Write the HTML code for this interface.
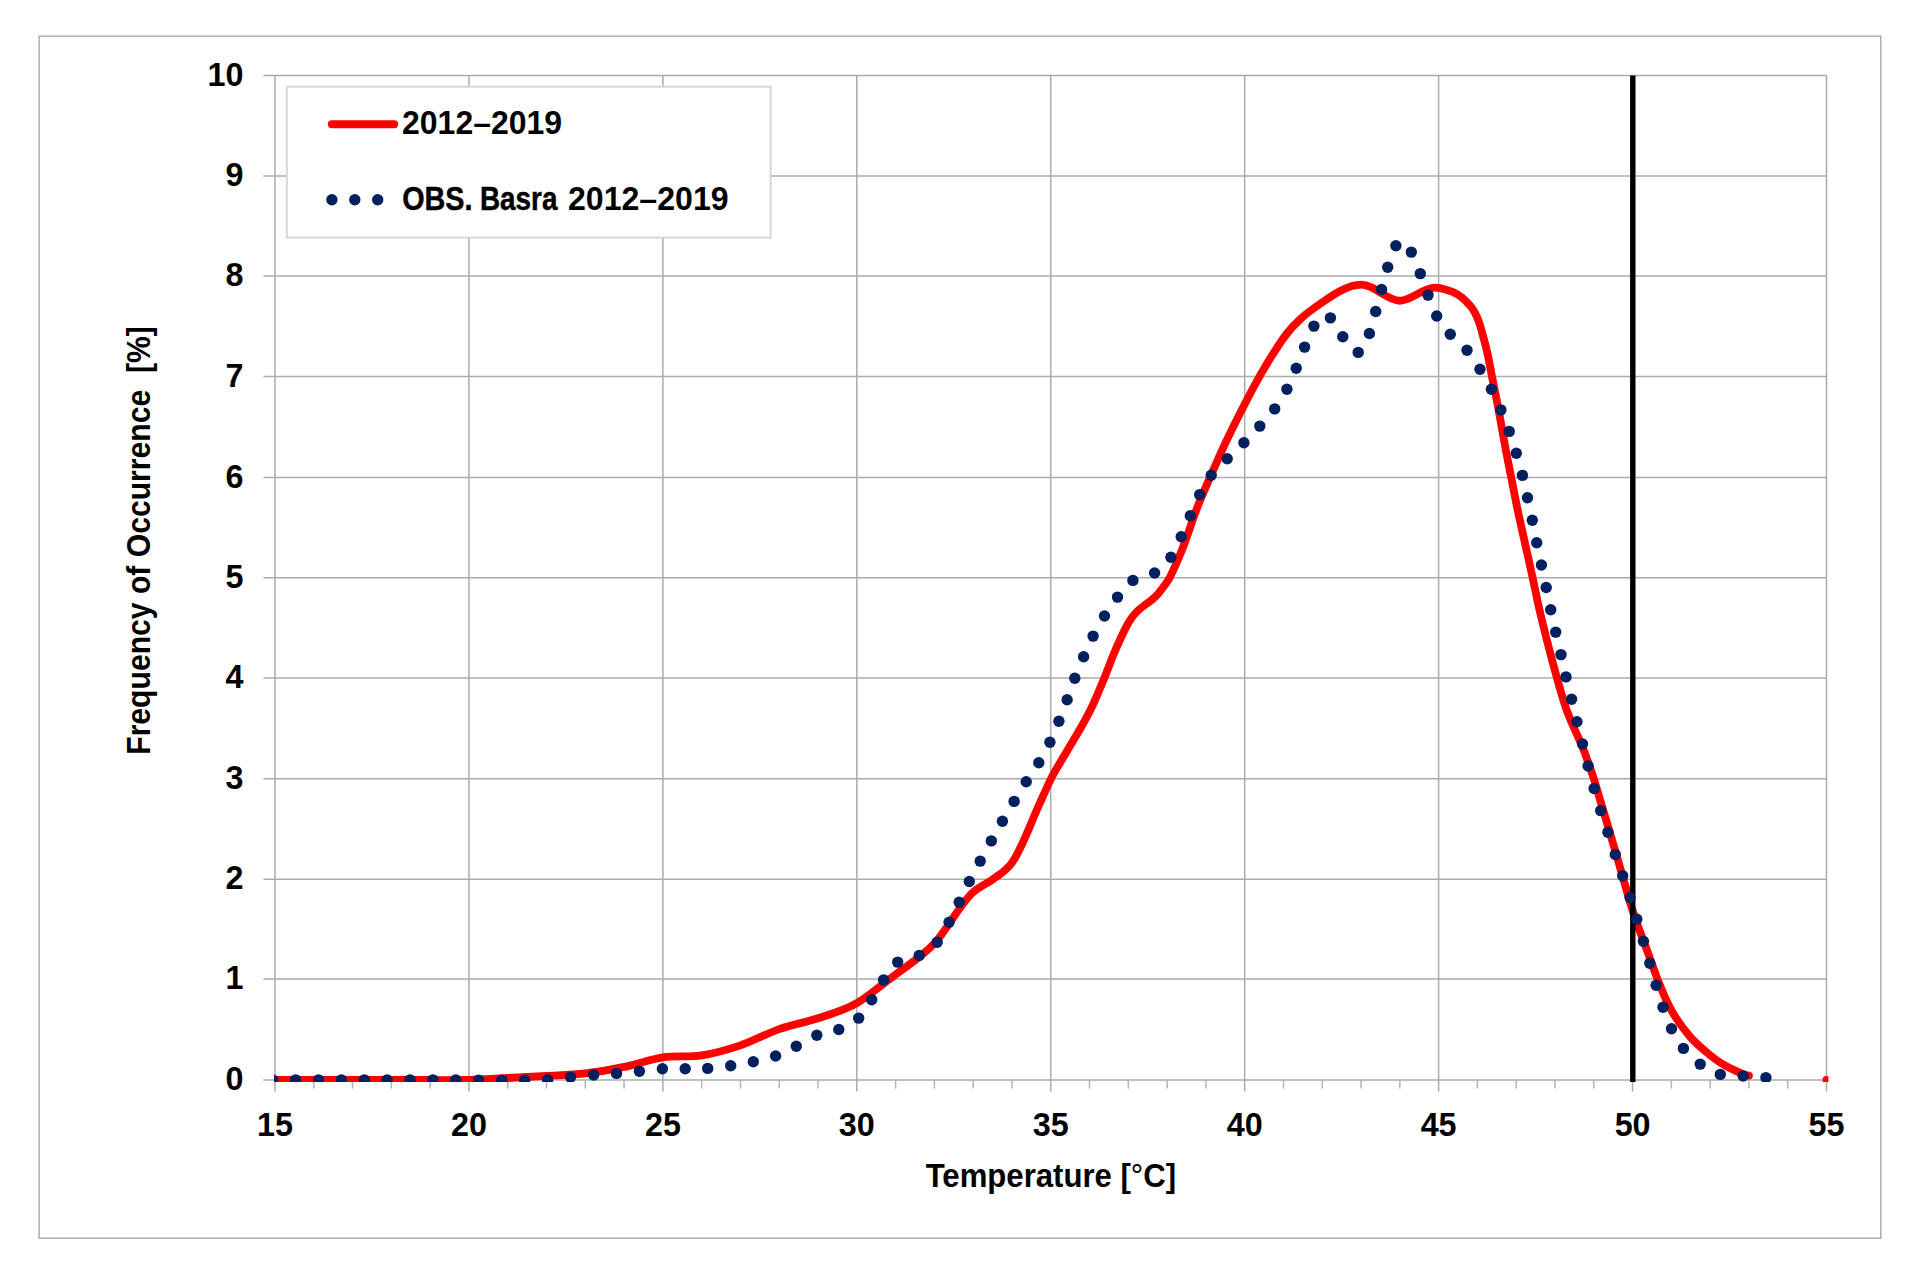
<!DOCTYPE html>
<html lang="en"><head><meta charset="utf-8"><title>Frequency of Occurrence vs Temperature</title>
<style>html,body{margin:0;padding:0;background:#fff;}svg{display:block;}text{font-family:"Liberation Sans",sans-serif;font-weight:bold;fill:#000;}</style></head><body>
<svg width="1923" height="1282" viewBox="0 0 1923 1282">
<rect x="0" y="0" width="1923" height="1282" fill="#fff"/>
<rect x="39.1" y="36.2" width="1841.7" height="1202.0" fill="none" stroke="#adadad" stroke-width="1.5"/>
<g stroke="#ababab" stroke-width="1.5" fill="none">
<line x1="263.4" x2="1826.5" y1="1080.00" y2="1080.00"/>
<line x1="263.4" x2="1826.5" y1="979.00" y2="979.00"/>
<line x1="263.4" x2="1826.5" y1="879.15" y2="879.15"/>
<line x1="263.4" x2="1826.5" y1="778.75" y2="778.75"/>
<line x1="263.4" x2="1826.5" y1="678.00" y2="678.00"/>
<line x1="263.4" x2="1826.5" y1="577.80" y2="577.80"/>
<line x1="263.4" x2="1826.5" y1="477.50" y2="477.50"/>
<line x1="263.4" x2="1826.5" y1="376.60" y2="376.60"/>
<line x1="263.4" x2="1826.5" y1="276.00" y2="276.00"/>
<line x1="263.4" x2="1826.5" y1="176.00" y2="176.00"/>
<line x1="263.4" x2="1826.5" y1="75.55" y2="75.55"/>
<line x1="275.00" x2="275.00" y1="75.55" y2="1091.6"/>
<line x1="468.94" x2="468.94" y1="75.55" y2="1091.6"/>
<line x1="662.88" x2="662.88" y1="75.55" y2="1091.6"/>
<line x1="856.81" x2="856.81" y1="75.55" y2="1091.6"/>
<line x1="1050.75" x2="1050.75" y1="75.55" y2="1091.6"/>
<line x1="1244.69" x2="1244.69" y1="75.55" y2="1091.6"/>
<line x1="1438.62" x2="1438.62" y1="75.55" y2="1091.6"/>
<line x1="1632.56" x2="1632.56" y1="75.55" y2="1091.6"/>
<line x1="1826.50" x2="1826.50" y1="75.55" y2="1091.6"/>
<line x1="313.79" x2="313.79" y1="1080" y2="1088.6" stroke="#b4b4b4"/>
<line x1="352.57" x2="352.57" y1="1080" y2="1088.6" stroke="#b4b4b4"/>
<line x1="391.36" x2="391.36" y1="1080" y2="1088.6" stroke="#b4b4b4"/>
<line x1="430.15" x2="430.15" y1="1080" y2="1088.6" stroke="#b4b4b4"/>
<line x1="507.73" x2="507.73" y1="1080" y2="1088.6" stroke="#b4b4b4"/>
<line x1="546.51" x2="546.51" y1="1080" y2="1088.6" stroke="#b4b4b4"/>
<line x1="585.30" x2="585.30" y1="1080" y2="1088.6" stroke="#b4b4b4"/>
<line x1="624.09" x2="624.09" y1="1080" y2="1088.6" stroke="#b4b4b4"/>
<line x1="701.66" x2="701.66" y1="1080" y2="1088.6" stroke="#b4b4b4"/>
<line x1="740.45" x2="740.45" y1="1080" y2="1088.6" stroke="#b4b4b4"/>
<line x1="779.24" x2="779.24" y1="1080" y2="1088.6" stroke="#b4b4b4"/>
<line x1="818.02" x2="818.02" y1="1080" y2="1088.6" stroke="#b4b4b4"/>
<line x1="895.60" x2="895.60" y1="1080" y2="1088.6" stroke="#b4b4b4"/>
<line x1="934.39" x2="934.39" y1="1080" y2="1088.6" stroke="#b4b4b4"/>
<line x1="973.18" x2="973.18" y1="1080" y2="1088.6" stroke="#b4b4b4"/>
<line x1="1011.96" x2="1011.96" y1="1080" y2="1088.6" stroke="#b4b4b4"/>
<line x1="1089.54" x2="1089.54" y1="1080" y2="1088.6" stroke="#b4b4b4"/>
<line x1="1128.33" x2="1128.33" y1="1080" y2="1088.6" stroke="#b4b4b4"/>
<line x1="1167.11" x2="1167.11" y1="1080" y2="1088.6" stroke="#b4b4b4"/>
<line x1="1205.90" x2="1205.90" y1="1080" y2="1088.6" stroke="#b4b4b4"/>
<line x1="1283.47" x2="1283.47" y1="1080" y2="1088.6" stroke="#b4b4b4"/>
<line x1="1322.26" x2="1322.26" y1="1080" y2="1088.6" stroke="#b4b4b4"/>
<line x1="1361.05" x2="1361.05" y1="1080" y2="1088.6" stroke="#b4b4b4"/>
<line x1="1399.84" x2="1399.84" y1="1080" y2="1088.6" stroke="#b4b4b4"/>
<line x1="1477.41" x2="1477.41" y1="1080" y2="1088.6" stroke="#b4b4b4"/>
<line x1="1516.20" x2="1516.20" y1="1080" y2="1088.6" stroke="#b4b4b4"/>
<line x1="1554.99" x2="1554.99" y1="1080" y2="1088.6" stroke="#b4b4b4"/>
<line x1="1593.78" x2="1593.78" y1="1080" y2="1088.6" stroke="#b4b4b4"/>
<line x1="1671.35" x2="1671.35" y1="1080" y2="1088.6" stroke="#b4b4b4"/>
<line x1="1710.14" x2="1710.14" y1="1080" y2="1088.6" stroke="#b4b4b4"/>
<line x1="1748.92" x2="1748.92" y1="1080" y2="1088.6" stroke="#b4b4b4"/>
<line x1="1787.71" x2="1787.71" y1="1080" y2="1088.6" stroke="#b4b4b4"/>
</g>
<rect x="286.8" y="86.7" width="483.8" height="150.9" fill="#fff" stroke="#d6d4d5" stroke-width="1.9"/>
<defs><clipPath id="pc"><rect x="274.1" y="70" width="1554.3" height="1012.1"/></clipPath></defs>
<g clip-path="url(#pc)">
<path d="M275.00 1080.00 C287.93 1080.00 300.86 1080.00 313.79 1080.00 C326.72 1080.00 339.65 1080.00 352.57 1080.00 C365.50 1080.00 378.43 1080.00 391.36 1080.00 C404.29 1080.00 417.22 1080.00 430.15 1080.00 C443.08 1080.00 456.01 1080.33 468.94 1080.00 C481.87 1079.67 494.80 1078.66 507.73 1077.99 C520.65 1077.32 533.58 1076.74 546.51 1075.98 C559.44 1075.23 572.37 1074.98 585.30 1073.47 C598.23 1071.96 611.16 1069.62 624.09 1066.94 C637.02 1064.26 649.95 1059.33 662.88 1057.40 C675.80 1055.47 688.73 1057.40 701.66 1055.39 C714.59 1053.38 727.52 1049.73 740.45 1045.35 C753.38 1040.96 766.31 1033.59 779.24 1029.07 C792.17 1024.55 805.10 1022.55 818.02 1018.23 C830.95 1013.91 843.88 1010.63 856.81 1003.16 C867.52 996.97 878.22 987.58 888.93 979.56 C891.15 977.89 893.38 976.22 895.60 974.53 C908.53 964.70 921.46 957.12 934.39 943.39 C947.32 929.67 960.25 903.55 973.18 892.17 C979.83 886.31 986.49 884.21 993.15 879.11 C999.42 874.31 1005.69 871.41 1011.96 862.74 C1021.14 850.04 1030.32 823.98 1039.50 803.98 C1043.34 795.61 1047.18 786.30 1051.02 778.66 C1055.77 769.22 1060.51 762.31 1065.26 754.00 C1074.73 737.38 1084.21 723.88 1093.69 703.03 C1097.20 695.29 1100.72 686.83 1104.24 678.22 C1107.55 670.12 1110.86 660.84 1114.17 653.01 C1118.89 641.84 1123.61 631.32 1128.33 622.98 C1138.71 604.61 1149.09 605.61 1159.47 592.04 C1162.85 587.63 1166.22 583.84 1169.59 577.78 C1173.31 571.10 1177.02 561.96 1180.73 553.00 C1186.95 537.98 1193.16 517.38 1199.38 502.04 C1202.94 493.27 1206.49 485.48 1210.05 477.33 C1213.77 468.80 1217.50 460.19 1221.22 452.02 C1229.42 434.04 1237.62 417.78 1245.81 402.00 C1250.30 393.36 1254.79 384.82 1259.27 376.88 C1264.28 368.04 1269.28 359.81 1274.28 351.97 C1277.35 347.18 1280.41 342.39 1283.47 338.11 C1296.40 320.07 1309.33 311.26 1322.26 302.35 C1335.19 293.45 1348.12 284.94 1361.05 284.68 C1373.98 284.41 1386.91 300.64 1399.84 300.75 C1411.73 300.84 1423.63 286.97 1435.52 287.69 C1438.75 287.88 1441.99 288.54 1445.22 289.40 C1447.80 290.08 1450.39 290.80 1452.98 292.01 C1455.95 293.40 1458.92 295.10 1461.90 297.53 C1463.84 299.12 1465.78 300.95 1467.72 303.06 C1469.54 305.04 1471.36 306.70 1473.18 309.69 C1474.39 311.66 1475.59 313.85 1476.79 316.62 C1477.79 318.91 1478.78 321.33 1479.78 324.45 C1480.53 326.81 1481.28 329.67 1482.03 332.39 C1483.73 338.56 1485.44 344.34 1487.15 351.97 C1488.78 359.27 1490.41 368.68 1492.04 376.88 C1493.72 385.36 1495.40 393.34 1497.08 402.00 C1500.23 418.24 1503.39 437.23 1506.54 453.73 C1508.08 461.77 1509.62 469.51 1511.16 477.33 C1512.98 486.60 1514.80 496.06 1516.63 504.95 C1520.14 522.11 1523.66 536.99 1527.18 552.97 C1529.00 561.24 1530.82 569.28 1532.65 577.78 C1534.40 585.97 1536.16 594.96 1537.92 602.99 C1542.02 621.70 1546.12 637.32 1550.22 653.01 C1552.49 661.72 1554.77 670.10 1557.04 678.22 C1559.45 686.80 1561.85 695.39 1564.26 703.03 C1571.11 724.80 1577.96 734.28 1584.82 753.00 C1587.80 761.16 1590.79 769.27 1593.78 778.66 C1596.18 786.23 1598.58 794.88 1600.99 802.97 C1606.06 820.03 1611.13 836.56 1616.19 854.00 C1618.60 862.27 1621.00 870.75 1623.41 879.11 C1625.80 887.42 1628.19 896.17 1630.58 904.02 C1636.64 923.89 1642.69 938.28 1648.74 955.00 C1651.72 963.25 1654.71 971.92 1657.70 979.56 C1661.33 988.85 1664.96 997.57 1668.60 1005.00 C1675.73 1019.59 1682.87 1028.26 1690.01 1036.61 C1695.20 1042.69 1700.40 1046.92 1705.60 1051.37 C1710.81 1055.83 1716.02 1059.99 1721.23 1063.33 C1726.43 1066.65 1731.63 1069.15 1736.82 1071.36 C1740.86 1073.08 1744.89 1074.96 1748.92 1075.68" fill="none" stroke="#ff0000" stroke-width="7.8" stroke-linecap="round" stroke-linejoin="round"/>
<circle cx="1826.5" cy="1080.0" r="4" fill="#ff0000"/>
<line x1="1632.80" x2="1632.80" y1="75.55" y2="1083.00" stroke="#000" stroke-width="5.4"/>
<g fill="#002060">
<circle cx="272.7" cy="1080.0" r="5.7"/>
<circle cx="295.6" cy="1079.9" r="5.7"/>
<circle cx="318.5" cy="1079.9" r="5.7"/>
<circle cx="341.4" cy="1079.9" r="5.7"/>
<circle cx="364.3" cy="1079.9" r="5.7"/>
<circle cx="387.1" cy="1079.9" r="5.7"/>
<circle cx="410.0" cy="1079.9" r="5.7"/>
<circle cx="432.9" cy="1079.9" r="5.7"/>
<circle cx="455.8" cy="1079.9" r="5.7"/>
<circle cx="478.7" cy="1080.1" r="5.7"/>
<circle cx="501.8" cy="1080.2" r="5.7"/>
<circle cx="524.7" cy="1080.2" r="5.7"/>
<circle cx="547.6" cy="1079.7" r="5.7"/>
<circle cx="570.5" cy="1077.1" r="5.7"/>
<circle cx="593.6" cy="1075.0" r="5.7"/>
<circle cx="616.5" cy="1073.4" r="5.7"/>
<circle cx="639.4" cy="1071.3" r="5.7"/>
<circle cx="662.4" cy="1068.7" r="5.7"/>
<circle cx="685.2" cy="1068.7" r="5.7"/>
<circle cx="707.7" cy="1068.4" r="5.7"/>
<circle cx="730.7" cy="1065.7" r="5.7"/>
<circle cx="753.3" cy="1061.8" r="5.7"/>
<circle cx="775.6" cy="1056.0" r="5.7"/>
<circle cx="796.3" cy="1046.2" r="5.7"/>
<circle cx="816.8" cy="1035.3" r="5.7"/>
<circle cx="838.8" cy="1029.5" r="5.7"/>
<circle cx="858.7" cy="1018.1" r="5.7"/>
<circle cx="871.7" cy="999.8" r="5.7"/>
<circle cx="883.6" cy="979.9" r="5.7"/>
<circle cx="897.7" cy="962.1" r="5.7"/>
<circle cx="919.2" cy="955.5" r="5.7"/>
<circle cx="937.2" cy="942.2" r="5.7"/>
<circle cx="949.1" cy="922.3" r="5.7"/>
<circle cx="959.2" cy="902.2" r="5.7"/>
<circle cx="969.3" cy="881.5" r="5.7"/>
<circle cx="980.2" cy="861.1" r="5.7"/>
<circle cx="991.3" cy="840.9" r="5.7"/>
<circle cx="1002.4" cy="821.3" r="5.7"/>
<circle cx="1014.1" cy="801.4" r="5.7"/>
<circle cx="1026.2" cy="781.8" r="5.7"/>
<circle cx="1038.8" cy="762.7" r="5.7"/>
<circle cx="1049.9" cy="742.2" r="5.7"/>
<circle cx="1058.9" cy="721.3" r="5.7"/>
<circle cx="1067.1" cy="699.8" r="5.7"/>
<circle cx="1074.8" cy="678.3" r="5.7"/>
<circle cx="1083.6" cy="656.8" r="5.7"/>
<circle cx="1093.1" cy="636.1" r="5.7"/>
<circle cx="1104.5" cy="616.0" r="5.7"/>
<circle cx="1117.5" cy="597.1" r="5.7"/>
<circle cx="1132.9" cy="580.4" r="5.7"/>
<circle cx="1154.6" cy="573.0" r="5.7"/>
<circle cx="1170.9" cy="557.2" r="5.7"/>
<circle cx="1181.2" cy="536.8" r="5.7"/>
<circle cx="1190.3" cy="515.7" r="5.7"/>
<circle cx="1199.7" cy="494.6" r="5.7"/>
<circle cx="1211.2" cy="475.3" r="5.7"/>
<circle cx="1227.2" cy="458.7" r="5.7"/>
<circle cx="1243.9" cy="442.8" r="5.7"/>
<circle cx="1259.8" cy="426.1" r="5.7"/>
<circle cx="1274.7" cy="408.9" r="5.7"/>
<circle cx="1286.9" cy="389.2" r="5.7"/>
<circle cx="1296.2" cy="368.3" r="5.7"/>
<circle cx="1304.6" cy="347.1" r="5.7"/>
<circle cx="1313.9" cy="326.1" r="5.7"/>
<circle cx="1330.4" cy="317.9" r="5.7"/>
<circle cx="1342.8" cy="336.7" r="5.7"/>
<circle cx="1358.2" cy="352.4" r="5.7"/>
<circle cx="1369.4" cy="333.5" r="5.7"/>
<circle cx="1375.7" cy="311.5" r="5.7"/>
<circle cx="1381.6" cy="289.5" r="5.7"/>
<circle cx="1387.7" cy="267.2" r="5.7"/>
<circle cx="1395.9" cy="245.7" r="5.7"/>
<circle cx="1411.3" cy="252.1" r="5.7"/>
<circle cx="1420.3" cy="273.6" r="5.7"/>
<circle cx="1428.0" cy="295.1" r="5.7"/>
<circle cx="1436.7" cy="316.0" r="5.7"/>
<circle cx="1450.3" cy="334.3" r="5.7"/>
<circle cx="1467.0" cy="350.2" r="5.7"/>
<circle cx="1480.0" cy="369.3" r="5.7"/>
<circle cx="1491.4" cy="389.2" r="5.7"/>
<circle cx="1500.9" cy="409.9" r="5.7"/>
<circle cx="1509.2" cy="431.4" r="5.7"/>
<circle cx="1516.3" cy="453.2" r="5.7"/>
<circle cx="1522.4" cy="475.4" r="5.7"/>
<circle cx="1527.5" cy="497.7" r="5.7"/>
<circle cx="1532.3" cy="520.2" r="5.7"/>
<circle cx="1536.7" cy="542.8" r="5.7"/>
<circle cx="1541.4" cy="565.0" r="5.7"/>
<circle cx="1546.2" cy="587.5" r="5.7"/>
<circle cx="1550.7" cy="609.8" r="5.7"/>
<circle cx="1555.7" cy="632.1" r="5.7"/>
<circle cx="1561.0" cy="654.6" r="5.7"/>
<circle cx="1566.0" cy="676.9" r="5.7"/>
<circle cx="1571.6" cy="699.2" r="5.7"/>
<circle cx="1576.9" cy="721.8" r="5.7"/>
<circle cx="1582.5" cy="744.0" r="5.7"/>
<circle cx="1588.1" cy="766.0" r="5.7"/>
<circle cx="1594.1" cy="788.5" r="5.7"/>
<circle cx="1600.7" cy="810.6" r="5.7"/>
<circle cx="1607.9" cy="832.3" r="5.7"/>
<circle cx="1615.3" cy="854.5" r="5.7"/>
<circle cx="1622.7" cy="875.8" r="5.7"/>
<circle cx="1630.1" cy="897.5" r="5.7"/>
<circle cx="1636.8" cy="919.3" r="5.7"/>
<circle cx="1643.4" cy="941.3" r="5.7"/>
<circle cx="1649.8" cy="963.3" r="5.7"/>
<circle cx="1656.1" cy="985.3" r="5.7"/>
<circle cx="1663.0" cy="1007.3" r="5.7"/>
<circle cx="1671.5" cy="1028.8" r="5.7"/>
<circle cx="1683.4" cy="1048.4" r="5.7"/>
<circle cx="1700.2" cy="1064.1" r="5.7"/>
<circle cx="1720.3" cy="1074.4" r="5.7"/>
<circle cx="1743.1" cy="1076.0" r="5.7"/>
<circle cx="1765.9" cy="1077.6" r="5.7"/>
</g>
</g>
<line x1="331.8" x2="394.2" y1="124.3" y2="124.3" stroke="#ff0000" stroke-width="7.9" stroke-linecap="round"/>
<g fill="#002060"><circle cx="331.9" cy="199.8" r="5.7"/><circle cx="354.8" cy="199.8" r="5.7"/><circle cx="377.7" cy="199.8" r="5.7"/></g>
<text x="402.1" y="134.3" font-size="32.3" textLength="159.9" lengthAdjust="spacingAndGlyphs">2012–2019</text>
<text y="209.7" font-size="32.3"><tspan x="402.2" textLength="70.3" lengthAdjust="spacingAndGlyphs" stroke="#000" stroke-width="0.45">OBS.</tspan> <tspan x="479.9" textLength="77.5" lengthAdjust="spacingAndGlyphs" stroke="#000" stroke-width="0.45">Basra</tspan> <tspan x="568.0" textLength="160.6" lengthAdjust="spacingAndGlyphs">2012–2019</tspan></text>
<text x="243.5" y="1090.1" font-size="32.3" text-anchor="end">0</text>
<text x="243.5" y="989.1" font-size="32.3" text-anchor="end">1</text>
<text x="243.5" y="889.2" font-size="32.3" text-anchor="end">2</text>
<text x="243.5" y="788.9" font-size="32.3" text-anchor="end">3</text>
<text x="243.5" y="688.1" font-size="32.3" text-anchor="end">4</text>
<text x="243.5" y="587.9" font-size="32.3" text-anchor="end">5</text>
<text x="243.5" y="487.6" font-size="32.3" text-anchor="end">6</text>
<text x="243.5" y="386.7" font-size="32.3" text-anchor="end">7</text>
<text x="243.5" y="286.1" font-size="32.3" text-anchor="end">8</text>
<text x="243.5" y="186.1" font-size="32.3" text-anchor="end">9</text>
<text x="243.5" y="85.6" font-size="32.3" text-anchor="end">10</text>
<text x="275.0" y="1136.3" font-size="32.3" text-anchor="middle">15</text>
<text x="468.9" y="1136.3" font-size="32.3" text-anchor="middle">20</text>
<text x="662.9" y="1136.3" font-size="32.3" text-anchor="middle">25</text>
<text x="856.8" y="1136.3" font-size="32.3" text-anchor="middle">30</text>
<text x="1050.8" y="1136.3" font-size="32.3" text-anchor="middle">35</text>
<text x="1244.7" y="1136.3" font-size="32.3" text-anchor="middle">40</text>
<text x="1438.6" y="1136.3" font-size="32.3" text-anchor="middle">45</text>
<text x="1632.6" y="1136.3" font-size="32.3" text-anchor="middle">50</text>
<text x="1826.5" y="1136.3" font-size="32.3" text-anchor="middle">55</text>
<text x="1050.9" y="1186.5" font-size="32.3" text-anchor="middle" textLength="250.5" lengthAdjust="spacingAndGlyphs">Temperature [<tspan font-weight="normal">°</tspan>C]</text>
<text transform="translate(149.7 540.5) rotate(-90)" font-size="32.3" text-anchor="middle" textLength="428.5" lengthAdjust="spacingAndGlyphs" xml:space="preserve">Frequency of Occurrence  [%]</text>
</svg></body></html>
